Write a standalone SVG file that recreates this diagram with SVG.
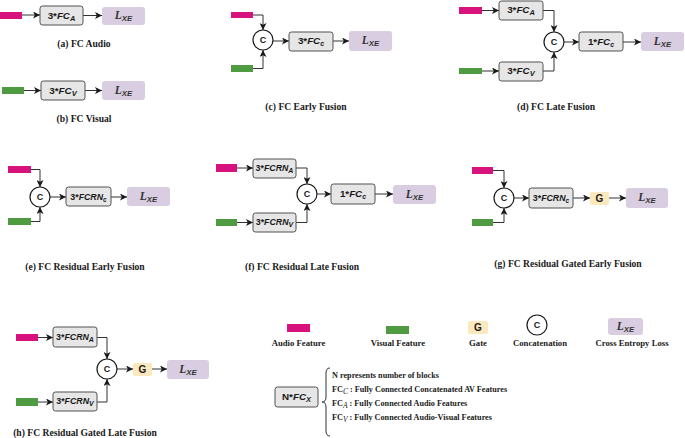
<svg xmlns="http://www.w3.org/2000/svg" width="685" height="438" viewBox="0 0 685 438">
<defs>
<style>
.bg{fill:#ffffff}
.aud{fill:#d8127c}
.vis{fill:#4f9b41}
.fc{fill:#e6e6e6;stroke:#505050;stroke-width:1}
.loss{fill:#d9cde1}
.gate{fill:#fbe9bd}
.cat{fill:#ffffff;stroke:#1a1a1a;stroke-width:1.2}
.wire{fill:none;stroke:#333333;stroke-width:1}
.bt{font-family:"Liberation Sans",Arial,sans-serif;font-weight:bold;font-size:9.8px;fill:#1a1a1a;text-anchor:middle}
.bt2{font-family:"Liberation Sans",Arial,sans-serif;font-weight:bold;font-size:8.8px;fill:#1a1a1a;text-anchor:middle}
.it{font-style:italic}
.lt{font-family:"Liberation Serif","Times New Roman",serif;font-weight:bold;font-style:italic;font-size:11.5px;fill:#333;text-anchor:middle}
.ls{font-family:"Liberation Sans",Arial,sans-serif;font-size:7.8px}
.cap{font-family:"Liberation Serif","Times New Roman",serif;font-weight:bold;font-size:9.6px;fill:#1a1a1a;text-anchor:middle}
.leg{font-family:"Liberation Serif","Times New Roman",serif;font-weight:bold;font-size:8.7px;fill:#1a1a1a;text-anchor:middle}
.note{font-family:"Liberation Serif","Times New Roman",serif;font-weight:bold;font-size:8.2px;fill:#1a1a1a}
.ct{font-family:"Liberation Sans",Arial,sans-serif;font-weight:bold;font-size:9px;fill:#1a1a1a;text-anchor:middle}
.gt{font-family:"Liberation Sans",Arial,sans-serif;font-weight:bold;font-size:10px;fill:#1a1a1a;text-anchor:middle}
</style>
<marker id="ah" markerUnits="userSpaceOnUse" markerWidth="8" markerHeight="7" refX="7" refY="3.5" orient="auto">
<path d="M0,0 L7,3.5 L0,7 L1.8,3.5 Z" fill="#1a1a1a"/>
</marker>
</defs>
<rect class="bg" x="0" y="0" width="685" height="438"/>

<g id="connectors">
<!-- a -->
<line class="wire" x1="22" y1="15" x2="40" y2="15" marker-end="url(#ah)"/>
<line class="wire" x1="83" y1="15.5" x2="102" y2="15.5" marker-end="url(#ah)"/>
<!-- b -->
<line class="wire" x1="24" y1="90.5" x2="41" y2="90.5" marker-end="url(#ah)"/>
<line class="wire" x1="85" y1="90.5" x2="102" y2="90.5" marker-end="url(#ah)"/>
<!-- c -->
<path class="wire" d="M253,15 H263 V30" marker-end="url(#ah)"/>
<path class="wire" d="M253,68.5 H263 V50" marker-end="url(#ah)"/>
<line class="wire" x1="273" y1="41" x2="289" y2="41" marker-end="url(#ah)"/>
<line class="wire" x1="333" y1="41" x2="349" y2="41" marker-end="url(#ah)"/>
<!-- d -->
<line class="wire" x1="482" y1="10.5" x2="499" y2="10.5" marker-end="url(#ah)"/>
<path class="wire" d="M543,10.5 H554 V32" marker-end="url(#ah)"/>
<line class="wire" x1="482" y1="71" x2="499" y2="71" marker-end="url(#ah)"/>
<path class="wire" d="M543,71 H554 V52" marker-end="url(#ah)"/>
<line class="wire" x1="564" y1="42" x2="579" y2="42" marker-end="url(#ah)"/>
<line class="wire" x1="623" y1="42" x2="641" y2="42" marker-end="url(#ah)"/>
<!-- e -->
<path class="wire" d="M31,169.5 H40 V187" marker-end="url(#ah)"/>
<path class="wire" d="M31,221.5 H40 V207" marker-end="url(#ah)"/>
<line class="wire" x1="50" y1="197" x2="66" y2="197" marker-end="url(#ah)"/>
<line class="wire" x1="111" y1="197" x2="127" y2="197" marker-end="url(#ah)"/>
<!-- f -->
<line class="wire" x1="237" y1="168" x2="253" y2="168" marker-end="url(#ah)"/>
<path class="wire" d="M296,168 H307 V184" marker-end="url(#ah)"/>
<line class="wire" x1="237" y1="222.5" x2="253" y2="222.5" marker-end="url(#ah)"/>
<path class="wire" d="M296,222.5 H307 V204" marker-end="url(#ah)"/>
<line class="wire" x1="317" y1="194" x2="331" y2="194" marker-end="url(#ah)"/>
<line class="wire" x1="375" y1="194" x2="393" y2="194" marker-end="url(#ah)"/>
<!-- g -->
<path class="wire" d="M493,170.5 H504 V188" marker-end="url(#ah)"/>
<path class="wire" d="M493,222.5 H504 V208" marker-end="url(#ah)"/>
<line class="wire" x1="514" y1="198" x2="529" y2="198" marker-end="url(#ah)"/>
<line class="wire" x1="573" y1="198" x2="590" y2="198" marker-end="url(#ah)"/>
<line class="wire" x1="609" y1="198" x2="626" y2="198" marker-end="url(#ah)"/>
<!-- h -->
<line class="wire" x1="38" y1="337.5" x2="53" y2="337.5" marker-end="url(#ah)"/>
<path class="wire" d="M97,337.5 H107 V359" marker-end="url(#ah)"/>
<line class="wire" x1="38" y1="402" x2="53" y2="402" marker-end="url(#ah)"/>
<path class="wire" d="M97,402 H107 V379" marker-end="url(#ah)"/>
<line class="wire" x1="117" y1="369" x2="133" y2="369" marker-end="url(#ah)"/>
<line class="wire" x1="152" y1="369" x2="167" y2="369" marker-end="url(#ah)"/>
</g>

<!-- (a) FC Audio -->
<g id="a-audio"><rect class="aud" x="0" y="12" width="22" height="7"/></g>
<g id="a-fc"><rect class="fc" x="40" y="6" width="43" height="19" rx="2.5"/><text class="bt" x="61.5" y="18.5">3*<tspan class="it">FC</tspan><tspan class="it" font-size="7.5" dy="2">A</tspan></text></g>
<g id="a-loss"><rect class="loss" x="102" y="7" width="43" height="18" rx="3"/><text class="lt" x="123.5" y="19">L<tspan class="ls" dy="2">XE</tspan></text></g>
<text class="cap" x="84" y="47">(a) FC Audio</text>

<!-- (b) FC Visual -->
<g id="b-visual"><rect class="vis" x="2" y="87" width="22" height="7"/></g>
<g id="b-fc"><rect class="fc" x="41" y="81" width="44" height="19" rx="2.5"/><text class="bt" x="63" y="93.5">3*<tspan class="it">FC</tspan><tspan class="it" font-size="7.5" dy="2">V</tspan></text></g>
<g id="b-loss"><rect class="loss" x="102" y="81" width="43" height="19" rx="3"/><text class="lt" x="123.5" y="93.5">L<tspan class="ls" dy="2">XE</tspan></text></g>
<text class="cap" x="84" y="122">(b) FC Visual</text>

<!-- (c) FC Early Fusion -->
<g id="c-audio"><rect class="aud" x="231" y="12" width="22" height="6"/></g>
<g id="c-visual"><rect class="vis" x="231" y="65" width="22" height="7"/></g>
<g id="c-cat"><circle class="cat" cx="263" cy="40" r="10"/><text class="ct" x="263" y="43.3">C</text></g>
<g id="c-fc"><rect class="fc" x="289" y="32" width="44" height="19" rx="2.5"/><text class="bt" x="311" y="44">3*<tspan class="it">FC</tspan><tspan class="it" font-size="7" dy="2">c</tspan></text></g>
<g id="c-loss"><rect class="loss" x="349" y="31" width="43" height="20" rx="3"/><text class="lt" x="370.5" y="44">L<tspan class="ls" dy="2">XE</tspan></text></g>
<text class="cap" x="306" y="110">(c) FC Early Fusion</text>

<!-- (d) FC Late Fusion -->
<g id="d-audio"><rect class="aud" x="459" y="7" width="23" height="7"/></g>
<g id="d-fca"><rect class="fc" x="499" y="1" width="44" height="19" rx="2.5"/><text class="bt" x="521" y="13">3*<tspan class="it">FC</tspan><tspan class="it" font-size="7.5" dy="2">A</tspan></text></g>
<g id="d-visual"><rect class="vis" x="459" y="68" width="23" height="6"/></g>
<g id="d-fcv"><rect class="fc" x="499" y="62" width="44" height="19" rx="2.5"/><text class="bt" x="521" y="74">3*<tspan class="it">FC</tspan><tspan class="it" font-size="7.5" dy="2">V</tspan></text></g>
<g id="d-cat"><circle class="cat" cx="554" cy="42" r="10"/><text class="ct" x="554" y="45.3">C</text></g>
<g id="d-fc"><rect class="fc" x="579" y="32" width="44" height="19" rx="2.5"/><text class="bt" x="601" y="44.5">1*<tspan class="it">FC</tspan><tspan class="it" font-size="7" dy="2">c</tspan></text></g>
<g id="d-loss"><rect class="loss" x="641" y="32" width="43" height="19" rx="3"/><text class="lt" x="662.5" y="44.5">L<tspan class="ls" dy="2">XE</tspan></text></g>
<text class="cap" x="556" y="110">(d) FC Late Fusion</text>

<!-- (e) FC Residual Early Fusion -->
<g id="e-audio"><rect class="aud" x="8" y="166" width="23" height="7"/></g>
<g id="e-visual"><rect class="vis" x="8" y="218" width="23" height="7"/></g>
<g id="e-cat"><circle class="cat" cx="40" cy="197" r="10"/><text class="ct" x="40" y="200.3">C</text></g>
<g id="e-fc"><rect class="fc" x="66" y="187" width="45" height="19" rx="2.5"/><text class="bt2" x="88.5" y="199.5">3*<tspan class="it">FCRN</tspan><tspan class="it" font-size="6.5" dy="2">c</tspan></text></g>
<g id="e-loss"><rect class="loss" x="127" y="187" width="43" height="19" rx="3"/><text class="lt" x="148.5" y="199.5">L<tspan class="ls" dy="2">XE</tspan></text></g>
<text class="cap" x="85" y="270">(e) FC Residual Early Fusion</text>

<!-- (f) FC Residual Late Fusion -->
<g id="f-audio"><rect class="aud" x="216" y="164" width="21" height="8"/></g>
<g id="f-fca"><rect class="fc" x="253" y="159" width="43" height="19" rx="2.5"/><text class="bt2" x="274.5" y="171">3*<tspan class="it">FCRN</tspan><tspan class="it" font-size="7" dy="2">A</tspan></text></g>
<g id="f-visual"><rect class="vis" x="216" y="219" width="21" height="7"/></g>
<g id="f-fcv"><rect class="fc" x="253" y="213" width="43" height="19" rx="2.5"/><text class="bt2" x="274.5" y="225">3*<tspan class="it">FCRN</tspan><tspan class="it" font-size="7" dy="2">V</tspan></text></g>
<g id="f-cat"><circle class="cat" cx="307" cy="194" r="10"/><text class="ct" x="307" y="197.3">C</text></g>
<g id="f-fc"><rect class="fc" x="331" y="184" width="44" height="20" rx="2.5"/><text class="bt" x="353" y="196.5">1*<tspan class="it">FC</tspan><tspan class="it" font-size="7" dy="2">c</tspan></text></g>
<g id="f-loss"><rect class="loss" x="393" y="185" width="43" height="19" rx="3"/><text class="lt" x="414.5" y="197.5">L<tspan class="ls" dy="2">XE</tspan></text></g>
<text class="cap" x="302" y="270">(f) FC Residual Late Fusion</text>

<!-- (g) FC Residual Gated Early Fusion -->
<g id="g-audio"><rect class="aud" x="472" y="167" width="21" height="7"/></g>
<g id="g-visual"><rect class="vis" x="472" y="219" width="21" height="7"/></g>
<g id="g-cat"><circle class="cat" cx="504" cy="198" r="10"/><text class="ct" x="504" y="201.3" font-weight="normal">C</text></g>
<g id="g-fc"><rect class="fc" x="529" y="188" width="44" height="20" rx="2.5"/><text class="bt2" x="551" y="200.5">3*<tspan class="it">FCRN</tspan><tspan class="it" font-size="6.5" dy="2">c</tspan></text></g>
<g id="g-gate"><rect class="gate" x="590" y="192" width="19" height="13" rx="2"/><text class="gt" x="599.5" y="202">G</text></g>
<g id="g-loss"><rect class="loss" x="626" y="188" width="42" height="20" rx="3"/><text class="lt" x="647" y="201">L<tspan class="ls" dy="2">XE</tspan></text></g>
<text class="cap" x="568" y="267">(g) FC Residual Gated Early Fusion</text>

<!-- (h) FC Residual Gated Late Fusion -->
<g id="h-audio"><rect class="aud" x="16" y="334" width="22" height="7"/></g>
<g id="h-fca"><rect class="fc" x="53" y="327" width="44" height="20" rx="2.5"/><text class="bt2" x="75" y="339.5">3*<tspan class="it">FCRN</tspan><tspan class="it" font-size="7" dy="2">A</tspan></text></g>
<g id="h-visual"><rect class="vis" x="16" y="398" width="22" height="8"/></g>
<g id="h-fcv"><rect class="fc" x="53" y="392" width="44" height="19" rx="2.5"/><text class="bt2" x="75" y="404">3*<tspan class="it">FCRN</tspan><tspan class="it" font-size="7" dy="2">V</tspan></text></g>
<g id="h-cat"><circle class="cat" cx="107" cy="369" r="10"/><text class="ct" x="107" y="372.3">C</text></g>
<g id="h-gate"><rect class="gate" x="133" y="363" width="19" height="13" rx="2"/><text class="gt" x="142.5" y="373">G</text></g>
<g id="h-loss"><rect class="loss" x="167" y="360" width="42" height="19" rx="3"/><text class="lt" x="188" y="372.5">L<tspan class="ls" dy="2">XE</tspan></text></g>
<text class="cap" x="85" y="436">(h) FC Residual Gated Late Fusion</text>

<!-- Legend -->
<g id="legend-audio"><rect class="aud" x="287" y="324" width="23" height="8"/><text class="leg" x="298.5" y="346">Audio Feature</text></g>
<g id="legend-visual"><rect class="vis" x="386" y="326" width="23" height="8"/><text class="leg" x="398" y="346">Visual Feature</text></g>
<g id="legend-gate"><rect class="gate" x="468" y="321" width="20" height="13" rx="2"/><text class="gt" x="478" y="331">G</text><text class="leg" x="478" y="346">Gate</text></g>
<g id="legend-cat"><circle class="cat" cx="537" cy="325" r="10"/><text class="ct" x="537" y="328.3">C</text><text class="leg" x="540" y="346">Concatenation</text></g>
<g id="legend-loss"><rect class="loss" x="608" y="318" width="35" height="17" rx="3"/><text class="lt" x="625.5" y="329.5">L<tspan class="ls" dy="2">XE</tspan></text><text class="leg" x="632" y="346">Cross Entropy Loss</text></g>

<g id="legend-block"><rect class="fc" x="275" y="387" width="43" height="20" rx="2.5"/><text class="bt" x="296.5" y="400">N*<tspan class="it">FC</tspan><tspan class="it" font-size="7.5" dy="2">X</tspan></text></g>
<path class="wire" d="M330,368 Q326,368 326,373 V397 Q326,402 322,402 Q326,402 326,407 V431 Q326,436 330,436"/>
<text class="note" x="332" y="378">N represents number of blocks</text>
<text class="note" x="332" y="392" font-size="8.5">FC<tspan font-style="italic" font-weight="normal" font-size="7.5" dy="2">C</tspan><tspan dy="-2"> : Fully Connected Concatenated AV Features</tspan></text>
<text class="note" x="332" y="405.5" font-size="8.5">FC<tspan font-style="italic" font-weight="normal" font-size="7.5" dy="2">A</tspan><tspan dy="-2"> : Fully Connected Audio Features</tspan></text>
<text class="note" x="332" y="419.5" font-size="8.5">FC<tspan font-style="italic" font-weight="normal" font-size="7.5" dy="2">V</tspan><tspan dy="-2"> : Fully Connected Audio-Visual Features</tspan></text>
</svg>
